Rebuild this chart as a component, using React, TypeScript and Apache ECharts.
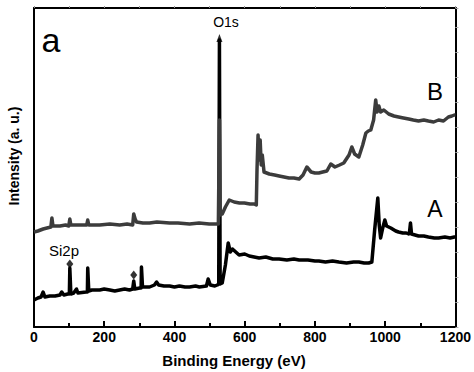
import React, { useEffect, useRef } from "react";
import * as echarts from "echarts";

// Binding energy (eV) and intensity (a.u.) for sample A
const energyA = [0, 11, 20, 26, 31, 45, 60, 74, 79, 85, 96, 100.7, 102, 105, 113, 121, 125, 148, 152, 153, 156, 165, 187, 200, 216, 230, 244, 258, 272, 281, 284, 287, 301, 305, 306, 309, 329, 343, 349, 355, 370, 386, 400, 414, 430, 443, 460, 471, 491, 496, 502, 515, 522, 526, 528, 530, 536, 545, 553, 559, 565, 584, 600, 613, 627, 641, 660, 680, 698, 720, 740, 755, 780, 800, 811, 830, 850, 868, 890, 910, 925, 940, 953, 962, 970, 979, 983, 987, 993, 999, 1004, 1016, 1030, 1038, 1050, 1060, 1067, 1069, 1072, 1075, 1085, 1095, 1110, 1123, 1140, 1152, 1170, 1185, 1197, 1200];
const intensityA = [27, 29, 30, 35, 30, 31, 31, 32, 35, 32, 33, 33, 59, 33, 34, 38, 34, 35, 35, 59, 36, 37, 37, 38, 37, 36, 37, 38, 37, 38, 46, 38, 39, 39, 60, 40, 40, 42, 45, 42, 41, 41, 40, 41, 40, 40, 41, 40, 41, 48, 42, 41, 42, 43, 287, 43, 44, 62, 84, 75, 78, 72, 73, 71, 70, 69, 70, 68, 68, 67, 68, 67, 67, 66, 66, 65, 66, 65, 64, 65, 65, 64, 64, 65, 97, 129, 102, 89, 99, 107, 101, 99, 96, 95, 94, 94, 93, 94, 104, 93, 92, 91, 91, 90, 89, 89, 90, 89, 90, 90];

// Binding energy (eV) and intensity (a.u.) for sample B
const energyB = [0, 11, 26, 37, 48, 51, 54, 74, 90, 99, 102, 105, 130, 150, 153, 156, 187, 216, 244, 265, 281, 284, 288, 292, 310, 329, 350, 386, 410, 443, 470, 499, 525, 528, 530, 536, 545, 556, 570, 585, 599, 615, 627, 633, 635, 638, 641, 644, 647, 650, 655, 670, 685, 698, 712, 726, 740, 755, 766, 777, 789, 800, 811, 822, 834, 845, 857, 870, 882, 897, 905, 913, 925, 936, 945, 952, 959, 967, 973, 977, 982, 987, 996, 1010, 1025, 1038, 1052, 1067, 1080, 1095, 1110, 1123, 1138, 1152, 1166, 1180, 1190, 1197, 1200];
const intensityB = [95, 96, 98, 99, 100, 109, 101, 101, 102, 101, 108, 102, 102, 102, 107, 102, 102, 103, 102, 103, 102, 113, 108, 105, 104, 104, 105, 104, 104, 103, 104, 103, 103, 207, 112, 113, 120, 127, 125, 124, 124, 123, 123, 122, 157, 192, 167, 187, 162, 172, 155, 153, 152, 151, 150, 149, 149, 148, 152, 160, 155, 154, 154, 155, 156, 163, 160, 162, 164, 172, 180, 173, 170, 182, 194, 196, 197, 207, 227, 215, 221, 215, 217, 213, 211, 210, 209, 208, 207, 206, 207, 206, 205, 207, 206, 210, 211, 212, 212];

// Annotation marks
const diamondPoints = [[102, 63], [284, 52]];
const arrowPoint = [[528, 289]];
const xTicks = [0, 200, 400, 600, 800, 1000, 1200];

const FONT = "Liberation Sans, Arial, sans-serif";

export default function App() {
  const ref = useRef<HTMLDivElement>(null);
  useEffect(() => {
    if (!ref.current) return;
    const chart = echarts.init(ref.current, null, { renderer: "svg" });
    const dataA = energyA.map((e, i) => [e, intensityA[i]]);
    const dataB = energyB.map((e, i) => [e, intensityB[i]]);
    const txt = (text: string, x: number, y: number, size: number, weight = "normal") => ({
      type: "text",
      x,
      y,
      style: {
        text,
        fill: "#000",
        font: `${weight} ${size}px ${FONT}`,
        align: "center",
        verticalAlign: "middle",
      },
    });
    chart.setOption({
      animation: false,
      backgroundColor: "#fff",
      grid: { left: 34, right: 17, top: 8, bottom: 45 },
      xAxis: [
        {
          type: "value",
          min: xTicks[0],
          max: xTicks[xTicks.length - 1],
          interval: 200,
          axisLine: { show: true, onZero: false, lineStyle: { color: "#000", width: 2 } },
          axisTick: { show: true, inside: true, length: 6, lineStyle: { color: "#000", width: 2 } },
          minorTick: { show: true, splitNumber: 2, length: 4, lineStyle: { color: "#000", width: 2 } },
          axisLabel: {
            color: "#000",
            fontFamily: FONT,
            fontWeight: "bold",
            fontSize: 14,
            margin: 3,
            formatter: (v: number) => String(v),
          },
          splitLine: { show: false },
        },
        {
          type: "value",
          position: "top",
          min: 0,
          max: 1200,
          interval: 100,
          axisLine: { show: true, onZero: false, lineStyle: { color: "#000", width: 2 } },
          axisTick: { show: true, inside: false, length: 2, lineStyle: { color: "#999", width: 1 } },
          axisLabel: { show: false },
          splitLine: { show: false },
        },
      ],
      yAxis: [
        {
          type: "value",
          min: 0,
          max: 319,
          axisLine: { show: true, onZero: false, lineStyle: { color: "#000", width: 2 } },
          axisTick: { show: false },
          axisLabel: { show: false },
          splitLine: { show: false },
        },
        {
          type: "value",
          position: "right",
          min: 0,
          max: 319,
          interval: 25,
          axisLine: { show: true, onZero: false, lineStyle: { color: "#000", width: 2 } },
          axisTick: { show: true, inside: false, length: 3, lineStyle: { color: "#aaa", width: 1 } },
          axisLabel: { show: false },
          splitLine: { show: false },
        },
      ],
      series: [
        {
          name: "A",
          type: "line",
          data: dataA,
          showSymbol: false,
          symbol: "none",
          lineStyle: { color: "#000", width: 3.5, join: "round" },
          z: 2,
        },
        {
          name: "B",
          type: "line",
          data: dataB,
          showSymbol: false,
          symbol: "none",
          lineStyle: { color: "#3c3c3c", width: 3.5, join: "round" },
          z: 3,
        },
        {
          type: "scatter",
          data: diamondPoints,
          symbol: "diamond",
          symbolSize: [7, 9],
          itemStyle: { color: "#000" },
          z: 4,
        },
        {
          type: "scatter",
          data: arrowPoint,
          symbol: "triangle",
          symbolSize: [6, 8],
          itemStyle: { color: "#000" },
          z: 4,
        },
      ],
      graphic: [
        txt("Si2p", 64, 250, 15),
        txt("O1s", 226, 22, 14),
        txt("a", 51, 40, 34),
        txt("B", 435, 91, 24),
        txt("A", 435, 209, 23),
        txt("Binding Energy (eV)", 234, 360, 15, "bold"),
        {
          type: "text",
          x: 14,
          y: 156,
          rotation: Math.PI / 2,
          style: {
            text: "Intensity (a. u.)",
            fill: "#000",
            font: `bold 14px ${FONT}`,
            align: "center",
            verticalAlign: "middle",
          },
        },
      ],
    });
    return () => chart.dispose();
  }, []);
  return (
    <div
      ref={ref}
      style={{ position: "fixed", left: 0, top: 0, width: 474, height: 372, background: "#fff" }}
    />
  );
}
